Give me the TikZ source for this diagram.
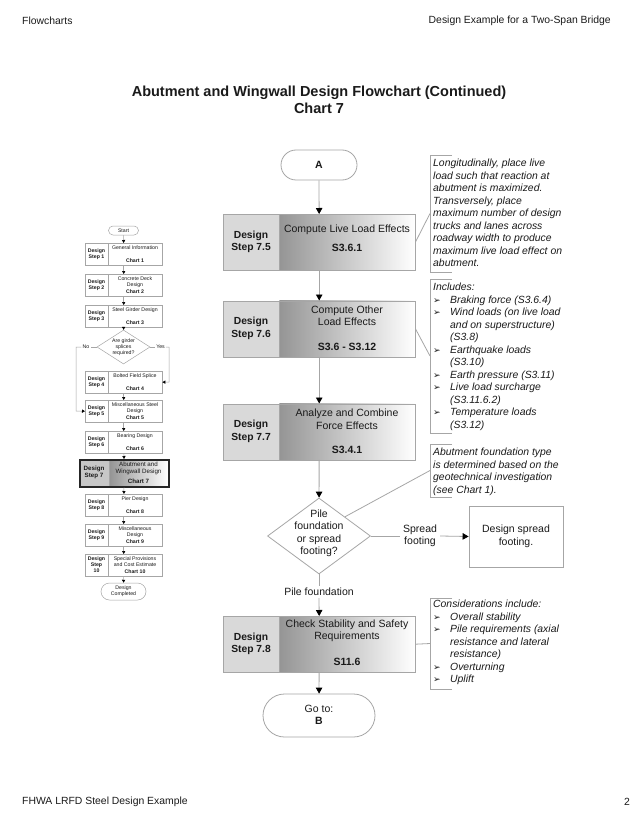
\documentclass[tikz,border=0pt]{standalone}
\usepackage{fontspec}
\setmainfont{Liberation Sans}
\newfontfamily\dejavu{DejaVu Sans}
\usetikzlibrary{shapes.geometric,arrows.meta}
\definecolor{boxfill}{HTML}{D9D9D9}
\definecolor{boxline}{HTML}{A6A6A6}
\definecolor{shadedark}{HTML}{959595}
\definecolor{txt}{HTML}{1A1A1A}
\newcommand\annbul{\makebox[17pt][l]{\upshape\dejavu\fontsize{9}{9}\selectfont ➢}}
\newcommand\annind{\hspace*{17pt}}
\newcommand\mstep[7]{%
 \node[mleft] (#1l) at (223,#2) {};
 \node[mright] (#1r) at (279,#2) {};
 \node[mframe] (#1) at (223,#2) {};
 \node[mlab] (#1a) at (251,#2+28) {Design\\Step #3};
 \node[mtitle] (#1b) at (347,#5) {#4};
 \node[msec] (#1c) at (347,#7) {#6};
}
\newcommand\ministep[5]{%
 \node[nl] (#1l) at (85,#2) {};
 \node[nr] (#1r) at (108,#2) {};
 \node[nframe] (#1) at (85,#2) {};
 \node[nbold] (#1a) at (96.5,#2+11) {#3};
 \node[ntxt,anchor=north] (#1b) at (135,#2+2.2) {#4};
 \node[nbold] (#1c) at (135,#2+17.5) {Chart #5};
}
\begin{document}
\begin{tikzpicture}[x=1pt,y=-1pt,
  line/.style={draw=boxline,line width=0.8pt},
  conn/.style={line,-{Triangle[width=6.5pt,length=6pt,color=black,fill=black]}},
  mleft/.style={draw=boxline,fill=boxfill,line width=0.8pt,minimum width=56pt,minimum height=56pt,inner sep=0pt,anchor=north west},
  mright/.style={draw=boxline,left color=shadedark,right color=white,line width=0.8pt,minimum width=136pt,minimum height=56pt,inner sep=0pt,anchor=north west},
  mframe/.style={minimum width=192pt,minimum height=56pt,inner sep=0pt,anchor=north west},
  mtitle/.style={font=\fontsize{10.5}{12.5}\selectfont,align=center,inner sep=0pt,text=txt},
  msec/.style={mtitle,font=\bfseries\fontsize{10.5}{12.5}\selectfont},
  mlab/.style={font=\bfseries\fontsize{10.3}{12.5}\selectfont,align=center,inner sep=0pt,text=txt},
  ann/.style={font=\itshape\fontsize{10.4}{12.5}\selectfont,align=left,inner sep=0pt,anchor=north west,text=txt},
  term/.style={draw=boxline,line width=0.8pt,fill=white,inner sep=0pt},
  nl/.style={draw=boxline,fill=white,line width=0.5pt,minimum width=23pt,minimum height=22pt,inner sep=0pt,anchor=north west},
  nr/.style={nl,minimum width=54pt},
  nframe/.style={minimum width=77pt,minimum height=22pt,inner sep=0pt,anchor=north west},
  ntxt/.style={font=\fontsize{5.2}{6}\selectfont,align=center,inner sep=0pt,text=txt},
  nbold/.style={ntxt,font=\bfseries\fontsize{5.2}{6}\selectfont},
  nline/.style={draw=boxline,line width=0.5pt},
  narrow/.style={nline,-{Triangle[width=3.2pt,length=3pt,color=black,fill=black]}},
  head/.style={font=\fontsize{10.4}{12}\selectfont,inner sep=0pt,text=txt}
]
\useasboundingbox[fill=white] (0,0) rectangle (638,826);

% header / footer / title
\node[head,anchor=west] (hl) at (22,21) {Flowcharts};
\node[head,anchor=east] (hr) at (611,21) {Design Example for a Two-Span Bridge};
\node[head,anchor=west] (fl) at (22,802) {FHWA LRFD Steel Design Example};
\node[head,anchor=east] (fr) at (630,802) {2};
\node[font=\bfseries\fontsize{14.5}{17}\selectfont,align=center,inner sep=0pt,text=txt] (title) at (319,99.5) {Abutment and Wingwall Design Flowchart (Continued)\\Chart 7};

% ---------------- mini overview chart ----------------
\node[draw=boxline,fill=white,line width=0.5pt,rounded corners=4.5pt,minimum width=30pt,minimum height=9pt,ntxt] (mstart) at (123.5,230.5) {Start};
\ministep{m1}{243}{Design\\Step 1}{General Information}{1}
\ministep{m2}{274}{Design\\Step 2}{Concrete Deck\\Design}{2}
\ministep{m3}{305}{Design\\Step 3}{Steel Girder Design}{3}
\node[draw=boxline,fill=white,line width=0.5pt,shape=diamond,minimum width=53pt,minimum height=34pt,inner sep=0pt] (md) at (123.5,347) {};
\node[ntxt] (mdt) at (123.5,347.5) {Are girder\\splices\\required?};
\ministep{m4}{371}{Design\\Step 4}{Bolted Field Splice}{4}
\ministep{m5}{400}{Design\\Step 5}{Miscellaneous Steel\\Design}{5}
\ministep{m6}{431}{Design\\Step 6}{Bearing Design}{6}
\node[nl,fill=black!22,minimum width=30pt,minimum height=27pt] (m7l) at (79,459) {};
\node[nl,left color=black!42,right color=white,minimum width=59pt,minimum height=27pt] (m7r) at (109,459) {};
\node[draw=black!85,line width=1.5pt,minimum width=89pt,minimum height=27pt,inner sep=0pt,anchor=north west] (m7) at (79,459) {};
\node[ntxt,font=\bfseries\fontsize{6.2}{7}\selectfont] (m7a) at (94,472.5) {Design\\Step 7};
\node[ntxt,font=\fontsize{6.2}{7}\selectfont] (m7b) at (138.5,468.5) {Abutment and\\Wingwall Design};
\node[ntxt,font=\bfseries\fontsize{6.2}{7}\selectfont] (m7c) at (138.5,481.5) {Chart 7};
\ministep{m8}{494}{Design\\Step 8}{Pier Design}{8}
\ministep{m9}{524}{Design\\Step 9}{Miscellaneous\\Design}{9}
\ministep{m10}{554}{Design\\Step\\10}{Special Provisions\\and Cost Estimate}{10}
\node[draw=boxline,fill=white,line width=0.5pt,rounded corners=8.5pt,minimum width=45pt,minimum height=17pt,ntxt] (mdone) at (123.5,591.5) {Design\\Completed};

\draw[narrow] (mstart) -- (m1);
\draw[narrow] (m1) -- (m2);
\draw[narrow] (m2) -- (m3);
\draw[narrow] (m3) -- (md);
\draw[narrow] (m4) -- (m5);
\draw[narrow] (m5) -- (m6);
\draw[narrow] (m6) -- (m7);
\draw[narrow] (m7) -- (m8);
\draw[narrow] (m8) -- (m9);
\draw[narrow] (m9) -- (m10);
\draw[narrow] (m10) -- (mdone);
\node[ntxt,inner sep=1pt] (mno) at (86,347) {No};
\node[ntxt,inner sep=1pt] (myes) at (160.5,347) {Yes};
\coordinate (mnoc) at (76,347);
\coordinate (mnob) at (76,411);
\coordinate (myc) at (169,347);
\coordinate (myb) at (169,382);
\draw[nline] (md.west) -- (mno.east);
\draw[narrow] (mno.west) -- (mnoc) -- (mnob) -- (m5.west);
\draw[nline] (md.east) -- (myes.west);
\draw[narrow] (myes.east) -- (myc) -- (myb) -- (m4.east);

% ---------------- main chart ----------------
\node[term,rounded corners=15pt,minimum width=76pt,minimum height=30pt,font=\bfseries\fontsize{10.5}{12.5}\selectfont,text=txt] (A) at (319,165) {A};
\mstep{s75}{214}{7.5}{Compute Live Load Effects}{230}{S3.6.1}{248}
\mstep{s76}{300.5}{7.6}{Compute Other\\Load Effects}{315.5}{S3.6 - S3.12}{347}
\mstep{s77}{403.5}{7.7}{Analyze and Combine\\Force Effects}{419}{S3.4.1}{450}
\node[draw=boxline,line width=0.8pt,fill=white,shape=diamond,minimum width=103pt,minimum height=76pt,inner sep=0pt] (dia) at (319,536) {};
\node[mtitle] (diat) at (319,533.5) {Pile\\foundation\\or spread\\footing?};
\node[mtitle,inner sep=3pt] (sf) at (420,536) {Spread\\footing};
\node[draw=boxline,line width=0.8pt,minimum width=94pt,minimum height=61pt,mtitle] (spread) at (516,536.5) {Design spread\\footing.};
\node[mtitle,inner sep=2pt] (pf) at (319,592) {Pile foundation};
\mstep{s78}{616}{7.8}{Check Stability and Safety\\Requirements}{631}{S11.6}{662}
\node[term,rounded corners=21.5pt,minimum width=112pt,minimum height=43pt] (B) at (319,715.5) {};
\node[mtitle] (Bt) at (319,715) {Go to:\\\textbf{B}};

\draw[conn] (A) -- (s75);
\draw[conn] (s75) -- (s76);
\draw[conn] (s76) -- (s77);
\draw[conn] (s77) -- (dia);
\draw[line] (dia.south) -- (pf.north);
\draw[conn] (pf.south) -- (s78.north);
\draw[line] (dia.east) -- (sf.west);
\draw[conn] (sf.east) -- (spread.west);
\draw[conn] (s78) -- (B);

% ---------------- annotations ----------------
\draw[line] (452,155) -- (430,155) -- (430,272) -- (452,272);
\coordinate (b1m) at (430,213.5);
\draw[line] (s75.east) -- (b1m);
\node[ann] (n1) at (433,159) {Longitudinally, place live\\load such that reaction at\\abutment is maximized.\\Transversely, place\\maximum number of design\\trucks and lanes across\\roadway width to produce\\maximum live load effect on\\abutment.};

\draw[line] (452,279) -- (430,279) -- (430,433) -- (452,433);
\coordinate (b2m) at (430,356);
\draw[line] (s76.east) -- (b2m);
\node[ann] (n2) at (433,283) {Includes:\\\annbul Braking force (S3.6.4)\\\annbul Wind loads (on live load\\\annind and on superstructure)\\\annind (S3.8)\\\annbul Earthquake loads\\\annind (S3.10)\\\annbul Earth pressure (S3.11)\\\annbul Live load surcharge\\\annind (S3.11.6.2)\\\annbul Temperature loads\\\annind (S3.12)};

\draw[line] (452,444) -- (430,444) -- (430,497) -- (452,497);
\coordinate (b3m) at (430,470.5);
\draw[line] (dia.north east) -- (b3m);
\node[ann] (n3) at (433,448) {Abutment foundation type\\is determined based on the\\geotechnical investigation\\(see Chart 1).};

\draw[line] (452,598) -- (430,598) -- (430,689) -- (452,689);
\coordinate (b4m) at (430,643.5);
\draw[line] (s78.east) -- (b4m);
\node[ann] (n4) at (433,600) {Considerations include:\\\annbul Overall stability\\\annbul Pile requirements (axial\\\annind resistance and lateral\\\annind resistance)\\\annbul Overturning\\\annbul Uplift};
\end{tikzpicture}
\end{document}
